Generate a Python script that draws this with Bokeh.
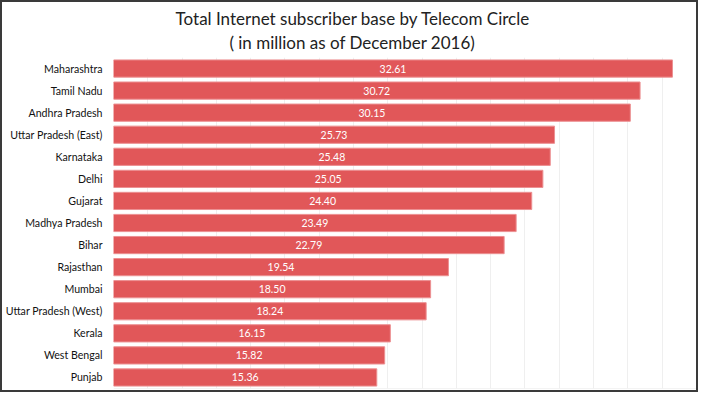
from bokeh.plotting import figure
from bokeh.models import Title, ColumnDataSource, Span
from bokeh.core.properties import value
from bokeh.embed import file_html
from bokeh.resources import INLINE

circles = ["Maharashtra", "Tamil Nadu", "Andhra Pradesh", "Uttar Pradesh (East)", "Karnataka",
           "Delhi", "Gujarat", "Madhya Pradesh", "Bihar", "Rajasthan", "Mumbai",
           "Uttar Pradesh (West)", "Kerala", "West Bengal", "Punjab"]
subscribers = [32.61, 30.72, 30.15, 25.73, 25.48, 25.05, 24.40, 23.49, 22.79, 19.54,
               18.50, 18.24, 16.15, 15.82, 15.36]
grid_ticks = list(range(0, 36, 2))

FONT = "Lato"
src = ColumnDataSource(dict(
    cat=circles,
    val=subscribers,
    mid=[v / 2 for v in subscribers],
    lab=["%.2f" % v for v in subscribers],
))

p = figure(width=698, height=392, y_range=list(reversed(circles)), x_range=(0, 34.07),
           output_backend="svg", toolbar_location=None,
           min_border_left=111, min_border_right=3, min_border_top=55, min_border_bottom=6)
p.styles = {"border": "2px solid #3a3a3a"}

p.add_layout(Title(text="( in million as of December 2016)", align="right", offset=222,
                   vertical_align="top",
                   text_font=FONT, text_font_size="17px", text_font_style="normal",
                   text_color="#222222", standoff=6), "above")
p.add_layout(Title(text="Total Internet subscriber base by Telecom Circle", align="right",
                   offset=167, text_font=FONT, text_font_size="17px", text_font_style="normal",
                   text_color="#222222", standoff=0), "above")

p.hbar(y="cat", right="val", left=0, height=0.78, source=src,
       fill_color="#e15759", line_color="#ec9092", line_width=1)
p.text(x="mid", y="cat", text="lab", source=src, text_align="center",
       text_baseline="middle", text_color="white", text_font=value(FONT),
       text_font_size="10.5px")

p.add_layout(Span(location=0, dimension="width", line_color="#e8e8e8", line_width=1))

p.outline_line_color = None
p.ygrid.grid_line_color = None
p.xgrid.grid_line_color = "#efefef"
p.xgrid.ticker = grid_ticks
p.xaxis.visible = False
p.yaxis.axis_line_color = None
p.yaxis.major_tick_line_color = None
p.yaxis.minor_tick_line_color = None
p.yaxis.major_label_text_font = FONT
p.yaxis.major_label_text_font_size = "10.6px"
p.yaxis.major_label_text_color = "#111111"
p.yaxis.major_label_standoff = 5

open("out.html", "w").write(file_html(p, INLINE))
